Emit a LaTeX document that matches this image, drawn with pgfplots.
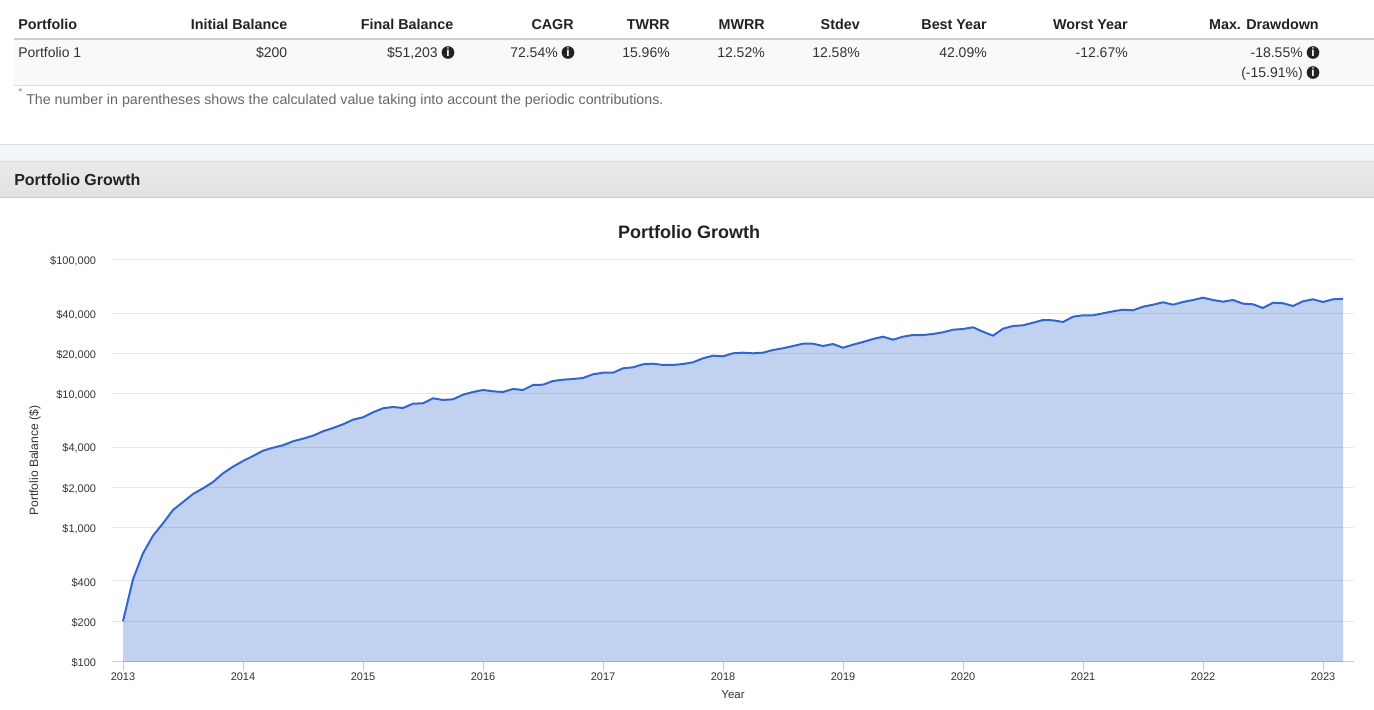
\documentclass[border=0pt]{standalone}
\usepackage{pgfplots}
\usepackage{pgfplotstable}
\usepackage{fontspec}
\pgfplotsset{compat=1.18}
\setmainfont{Liberation Sans}
\definecolor{gridc}{HTML}{E6E6E6}
\definecolor{linec}{HTML}{3366CC}
\definecolor{axisc}{HTML}{CCCCCC}
\definecolor{bodyc}{HTML}{333333}
\definecolor{tickc}{HTML}{333333}
\definecolor{rowc}{HTML}{F9F9F9}
\definecolor{rulea}{HTML}{CCCCCC}
\definecolor{ruleb}{HTML}{DDDDDD}
\definecolor{bandc}{HTML}{F3F6F9}
\definecolor{headt}{HTML}{E9E9E9}
\definecolor{headb}{HTML}{E2E2E2}
\definecolor{footc}{HTML}{666666}
\definecolor{darkc}{HTML}{222222}
\newcommand{\fs}[1]{\fontsize{#1}{#1}\selectfont}
\pgfplotstableread{
month value
0 200
1 412
2 644
3 872
4 1079
5 1357
6 1557
7 1786
8 1970
9 2195
10 2550
11 2858
12 3152
13 3434
14 3762
15 3960
16 4129
17 4422
18 4625
19 4870
20 5253
21 5559
22 5925
23 6412
24 6683
25 7283
26 7800
27 7980
28 7842
29 8443
30 8502
31 9266
32 8999
33 9108
34 9856
35 10325
36 10686
37 10450
38 10325
39 10873
40 10686
41 11648
42 11707
43 12478
44 12760
45 12912
46 13138
47 13999
48 14390
49 14390
50 15518
51 15788
52 16628
53 16800
54 16433
55 16433
56 16711
57 17211
58 18437
59 19280
60 19080
61 20090
62 20300
63 20090
64 20300
65 21270
66 21900
67 22780
68 23690
69 23690
70 22780
71 23570
72 22120
73 23300
74 24400
75 25700
76 26730
77 25390
78 26730
79 27520
80 27520
81 28000
82 28840
83 30150
84 30500
85 31420
86 29130
87 27200
88 30680
89 32120
90 32510
91 34000
92 35620
93 35440
94 34410
95 37700
96 38630
97 38630
98 39960
99 41360
100 42520
101 42080
102 44780
103 46340
104 48310
105 46340
106 48550
107 50250
108 52290
109 50250
110 48800
111 50250
112 47170
113 46670
114 43790
115 47970
116 47490
117 45320
118 49140
119 50860
120 48550
121 50860
122 51203
}\growthdata
\begin{document}
\begin{tikzpicture}
\path[use as bounding box] (0,0) rectangle (1030.5pt,532.5pt);
\begin{scope}[shift={(0,532.5pt)},x=0.75pt,y=-0.75pt,
  hb/.style={anchor=base east,inner sep=0pt,text=darkc,font=\bfseries\fs{10.75pt}},
  tb/.style={anchor=base east,inner sep=0pt,text=bodyc,font=\fs{10.5pt}},
  ic/.style={circle,fill=darkc,inner sep=0pt,minimum size=9.5pt,text=white,font=\bfseries\fs{9pt},text height=6.2pt,text depth=0pt}]
  % table
  \fill[rowc] (14,40) rectangle (1374,85);
  \fill[rulea] (14,38) rectangle (1374,40.5);
  \fill[ruleb] (14,84.7) rectangle (1374,85.8);
  \node[hb,anchor=base west] at (18,30) {Portfolio};
  \node[hb] at (287.5,30) {Initial Balance};
  \node[hb] at (453.5,30) {Final Balance};
  \node[hb] at (574,30) {CAGR};
  \node[hb] at (670,30) {TWRR};
  \node[hb] at (765,30) {MWRR};
  \node[hb] at (860,30) {Stdev};
  \node[hb] at (987,30) {Best Year};
  \node[hb] at (1128,30) {Worst Year};
  \node[hb] at (1319,30) {Max. Drawdown};
  \node[tb,anchor=base west] at (18,58) {Portfolio 1};
  \node[tb] at (287.5,58) {\$200};
  \node[tb] at (438,58) {\$51,203};
  \node[ic] at (448,52.5) {i};
  \node[tb] at (558,58) {72.54\%};
  \node[ic] at (568,52.5) {i};
  \node[tb] at (670,58) {15.96\%};
  \node[tb] at (765,58) {12.52\%};
  \node[tb] at (860,58) {12.58\%};
  \node[tb] at (987,58) {42.09\%};
  \node[tb] at (1128,58) {-12.67\%};
  \node[tb] at (1303,58) {-18.55\%};
  \node[ic] at (1313,52.5) {i};
  \node[tb] at (1303,78) {(-15.91\%)};
  \node[ic] at (1313,72.5) {i};
  % footnote
  \node[anchor=base west,inner sep=0pt,text=orange!80!black,font=\fs{7.5pt}] at (18,96) {*};
  \node[anchor=base west,inner sep=0pt,text=footc,font=\fs{10.68pt}] at (26,104.5) {The number in parentheses shows the calculated value taking into account the periodic contributions.};
  % section band
  \fill[bandc] (0,144.5) rectangle (1374,161.5);
  \fill[ruleb] (0,144) rectangle (1374,145);
  \shade[top color=headt,bottom color=headb] (0,162) rectangle (1374,197);
  \fill[ruleb] (0,161) rectangle (1374,162);
  \fill[rulea] (0,197) rectangle (1374,198);
  \node[anchor=base west,inner sep=0pt,text=darkc,font=\bfseries\fs{12pt}] at (14,185.5) {Portfolio Growth};
\end{scope}
\begin{axis}[
  at={(84pt,36.3pt)},anchor=south west,
  scale only axis,width=931.5pt,height=301.2pt,
  ymode=log,log basis y=10,
  xmin=-1.1,xmax=123.1,ymin=100,ymax=100000,
  axis x line*=bottom,axis y line*=left,
  x axis line style={draw=axisc,-,line width=0.75pt},
  y axis line style={draw=none},
  xtick={0,12,24,36,48,60,72,84,96,108,120},
  xticklabels={2013,2014,2015,2016,2017,2018,2019,2020,2021,2022,2023},
  ytick={100,200,400,1000,2000,4000,10000,20000,40000,100000},
  yticklabels={\$100,\$200,\$400,\$1{,}000,\$2{,}000,\$4{,}000,\$10{,}000,\$20{,}000,\$40{,}000,\$100{,}000},
  log ticks with fixed point,
  minor y tick num=0,minor x tick num=0,
  ymajorgrids,grid style={draw=gridc,line width=0.75pt},
  tick align=outside,
  x tick style={draw=axisc,line width=0.75pt},
  y tick style={draw=none},
  major tick length=6.75pt,
  ticklabel style={font=\fs{8.25pt},text=tickc,inner sep=0pt},
  yticklabel style={anchor=east,xshift=-5pt,yshift=-1.1pt},
  xticklabel style={anchor=base,yshift=-7.5pt},
  title={\bfseries Portfolio Growth},
  title style={at={(axis description cs:0.4646,1.0324)},anchor=base,font=\fs{13.5pt},text=darkc,inner sep=0pt},
  xlabel={Year},
  xlabel style={at={(axis description cs:0.5,-0.0815)},anchor=center,font=\fs{8.6pt},text=bodyc,inner sep=0pt},
  ylabel={Portfolio Balance (\$)},
  ylabel style={at={(axis description cs:-0.0620,0.5)},anchor=center,font=\fs{9.1pt},text=bodyc,inner sep=0pt},
  clip=true,
]
\addplot[draw=none,fill=linec,fill opacity=0.3,forget plot] table[x=month,y=value] {\growthdata} \closedcycle;
\addplot[draw=linec,line width=1.5pt,line join=round,no marks] table[x=month,y=value] {\growthdata};
\end{axis}
\end{tikzpicture}
\end{document}
